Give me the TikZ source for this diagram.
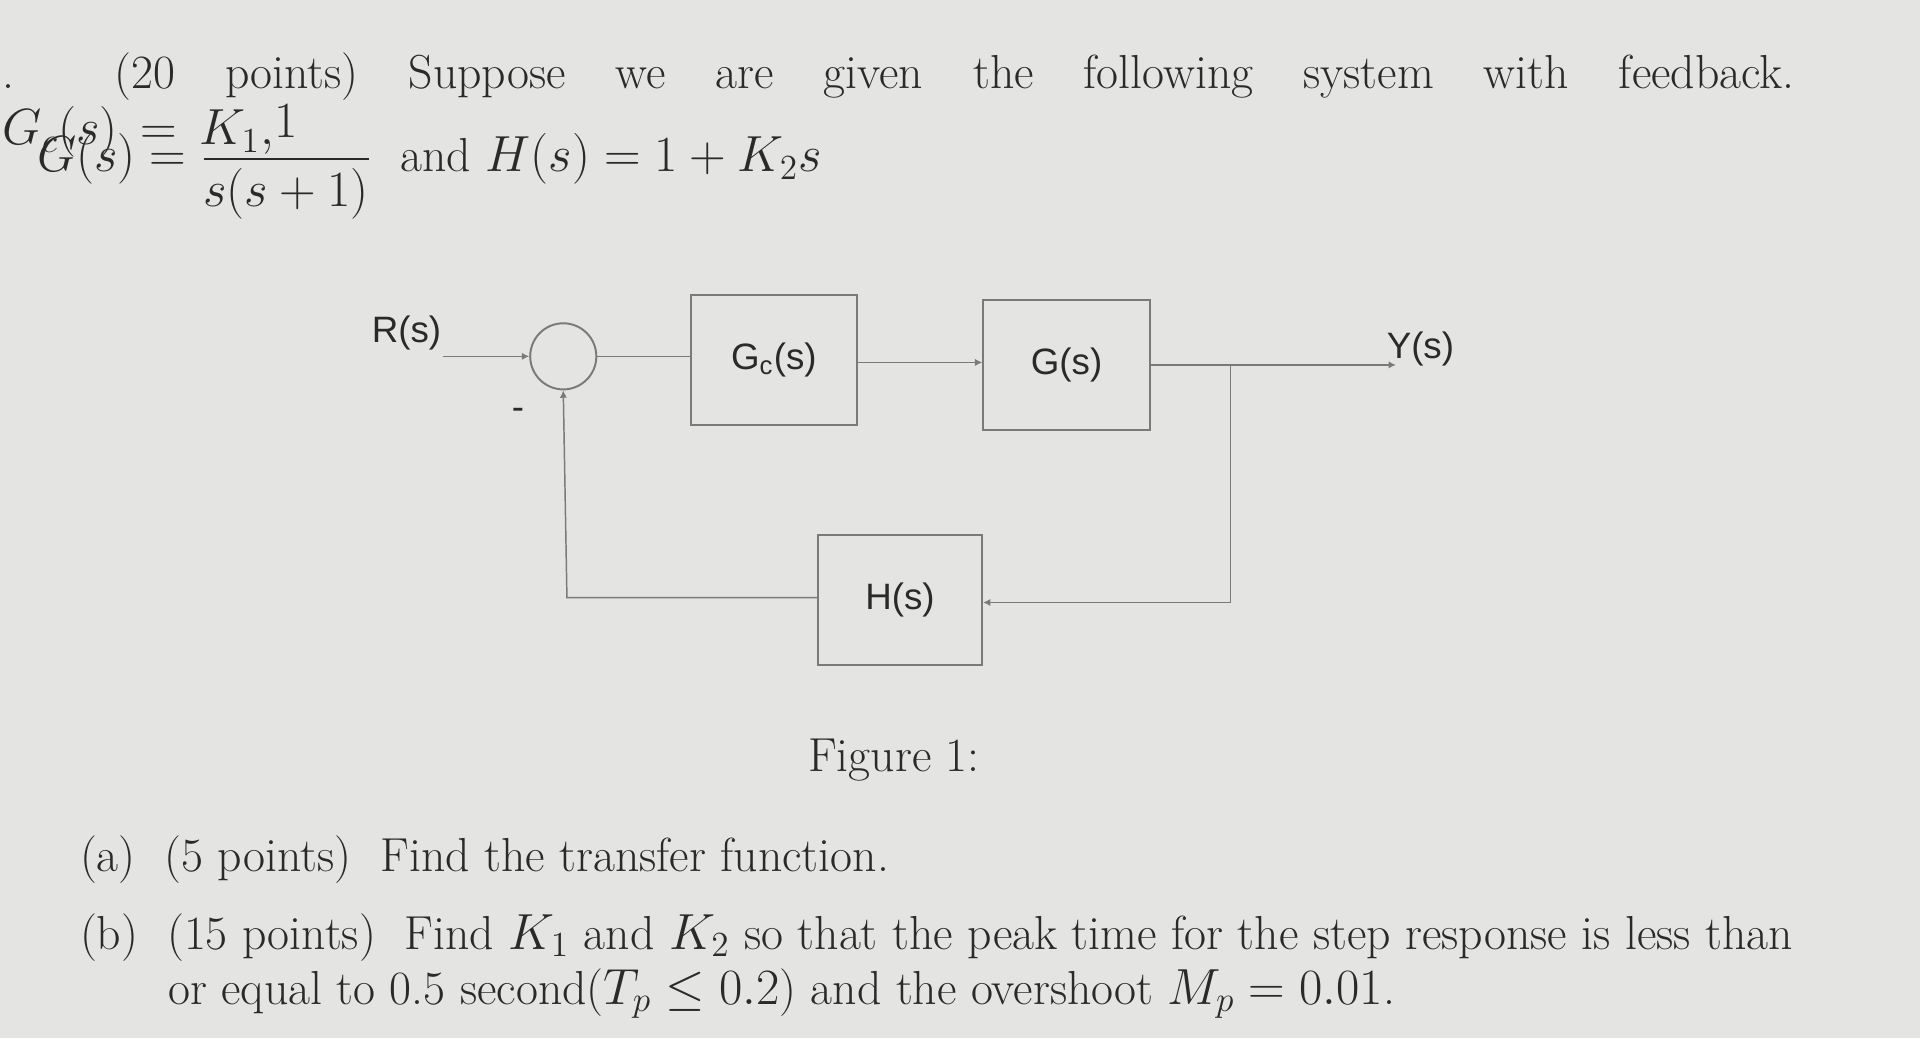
\documentclass[tikz,border=0pt]{standalone}
\usepackage{amsmath}
\usepackage{fontspec}
\newfontfamily\lsans{Liberation Sans}
\usetikzlibrary{arrows.meta}
\definecolor{bg}{HTML}{E4E4E2}
\definecolor{ink}{HTML}{2A2A2A}
\definecolor{ln}{HTML}{7A7A7A}
\tikzset{
 txt/.style={anchor=base west,inner sep=0pt,text=ink,font=\fontsize{19.5}{23}\selectfont},
 blk/.style={draw=ln,line width=0.8pt,fill=bg,inner sep=0pt},
 lab/.style={text=ink,font=\lsans\fontsize{15}{18}\selectfont,inner sep=0pt},
 wire/.style={draw=ln,line width=0.6pt},
 arr/.style={wire,-{Latex[length=3pt,width=3pt]}}
}
\begin{document}
\begin{tikzpicture}[x=0.5pt,y=-0.5pt]
\fill[bg] (0,0) rectangle (1568,848);
\useasboundingbox (0,0) rectangle (1568,848);
\node[txt,text width=749pt] (l1) at (2,72) {\spaceskip=0.6em plus 1em .\ \ (20 points) Suppose we are given the following system with feedback. \ \ $G_c(s)\,=\,K_1,$};
\node[txt] (l2) at (30,140) {$G(s)=\dfrac{1}{s(s+1)}$ \ and $H(s)=1+K_2s$};
% diagram
\node[lab] (R) at (332,272) {R(s)};
\coordinate (rin) at (362,291);
\node[circle,draw=ln,line width=0.8pt,minimum size=27pt,inner sep=0pt] (sum) at (460,291) {};
\node[blk,minimum width=68pt,minimum height=53pt] (Gc) at (632,294) {};
\node[lab] at (Gc) {G\textsubscript{c}(s)};
\node[blk,minimum width=68pt,minimum height=53pt] (G) at (871,298) {};
\node[lab] at (G) {G(s)};
\node[blk,minimum width=67pt,minimum height=53pt] (H) at (735,490) {};
\node[lab] at (H) {H(s)};
\node[lab] (Y) at (1160,285) {Y(s)};
\coordinate (yout) at (1140,298);
\coordinate (br) at (1005,298);
\coordinate (fb1) at (1005,492);
\coordinate (fb2) at (463,488);
\node[lab] (minus) at (423,338) {-};
\draw[arr] (rin) -- (sum.west);
\draw[wire] (sum.east) -- (Gc.west |- sum.east);
\draw[arr] (Gc.east |- 0,296) -- (G.west |- 0,296);
\draw[arr] (G.east |- br) -- (yout);
\draw[arr] (br) -- (fb1) -- (H.east |- fb1);
\draw[arr] (H.west |- fb2) -- (fb2) -- (sum.south);
\node[txt,anchor=base] (fig) at (730,630) {Figure 1:};
\node[txt] (a) at (65,712) {(a)\ \ (5 points) \ Find the transfer function.};
\node[txt] (b) at (65,775) {(b)\ \ (15 points) \ Find $K_1$ and $K_2$ so that the peak time for the step response is less than};
\node[txt] (b2) at (137,820) {or equal to 0.5 second($T_p\leq0.2$) and the overshoot $M_p=0.01$.};
\end{tikzpicture}
\end{document}
